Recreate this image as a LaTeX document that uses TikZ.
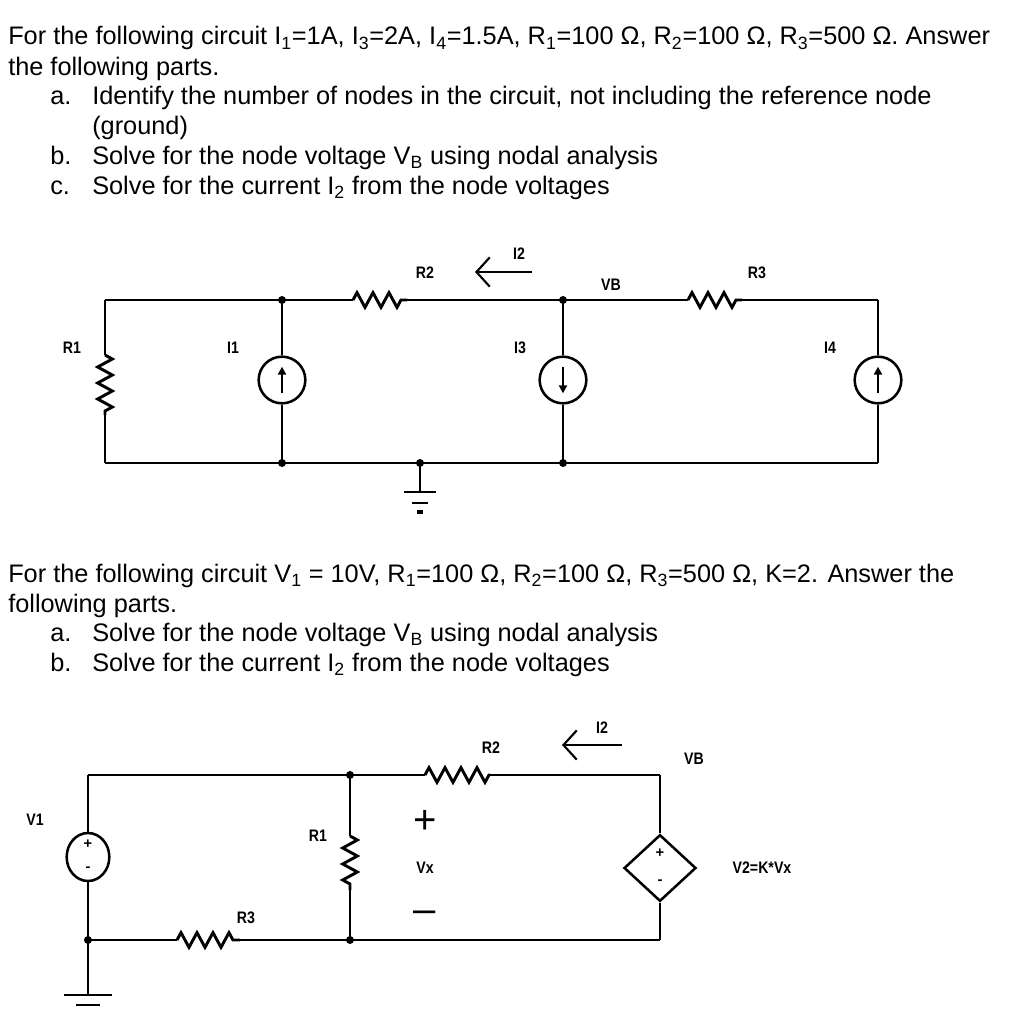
\documentclass[tikz,border=0pt]{standalone}
\usepackage{fontspec}
\setmainfont{Liberation Sans}
\usetikzlibrary{decorations.pathmorphing,shapes.geometric,arrows.meta}
\begin{document}
\begin{tikzpicture}[x=0.75pt,y=-0.75pt,
  txt/.style={anchor=base west,inner sep=0,font=\fontsize{19}{22}\selectfont},
  lbl/.style={inner sep=0,font=\fontsize{12.5}{14}\selectfont\bfseries,xscale=0.85},
  w/.style={line width=2.2pt},
  res/.style={w,decorate,decoration={zigzag,segment length=12,amplitude=5.5}},
  dot/.style={circle,fill,inner sep=0,minimum size=6pt},
  src/.style={circle,draw,line width=1.9pt,minimum size=35pt,inner sep=0},
  vsrc/.style={ellipse,draw,line width=1.9pt,minimum width=32pt,minimum height=36pt,inner sep=0},
  dsrc/.style={diamond,draw,line width=1.9pt,minimum width=54pt,minimum height=50pt,inner sep=0},
  cur/.style={line width=2.2pt,-{Triangle[length=6pt,width=6pt]}},
  pm/.style={font=\fontsize{11}{12}\selectfont\bfseries,inner sep=0},
  big/.style={-{Straight Barb[length=10pt,width=22pt,line width=1.6pt]},line width=1.7pt}]
\useasboundingbox (0,0) rectangle (1015,1010);
% ---------- text block 1
\node[txt] (t1) at (8,45) {For the following circuit I\textsubscript{1}=1A, I\textsubscript{3}=2A, I\textsubscript{4}=1.5A, R\textsubscript{1}=100 Ω, R\textsubscript{2}=100 Ω, R\textsubscript{3}=500 Ω. Answer};
\node[txt] (t2) at (8,75) {the following parts.};
\node[txt] (t3a) at (50,104) {a.};
\node[txt] (t3) at (92,104) {Identify the number of nodes in the circuit, not including the reference node};
\node[txt] (t4) at (92,134) {(ground)};
\node[txt] (t5a) at (50,164) {b.};
\node[txt] (t5) at (92,164) {Solve for the node voltage V\textsubscript{B} using nodal analysis};
\node[txt] (t6a) at (50,194) {c.};
\node[txt] (t6) at (92,194) {Solve for the current I\textsubscript{2} from the node voltages};
% ---------- circuit 1
\coordinate (aTL) at (105,300); \coordinate (aBL) at (105,463);
\coordinate (aT1) at (282,300); \coordinate (aB1) at (282,463);
\coordinate (aT3) at (563,300); \coordinate (aB3) at (563,463);
\coordinate (aTR) at (878,300); \coordinate (aBR) at (878,463);
\coordinate (aG) at (420,463);
\coordinate (r1a) at (105,355); \coordinate (r1b) at (105,415);
\coordinate (r2a) at (353,300); \coordinate (r2b) at (407,300);
\coordinate (r3a) at (688,300); \coordinate (r3b) at (742,300);
\node[src] (s1) at (282,380) {};
\node[src] (s3) at (563,380) {};
\node[src] (s4) at (878,380) {};
\draw[w] (aTL) -- (r1a); \draw[res] (r1a) -- (r1b); \draw[w] (r1b) -- (aBL);
\draw[w] (aTL) -- (r2a); \draw[res] (r2a) -- (r2b); \draw[w] (r2b) -- (r3a);
\draw[res] (r3a) -- (r3b); \draw[w] (r3b) -- (aTR);
\draw[w] (aBL) -- (aBR);
\draw[w] (aT1) -- (s1.north); \draw[w] (s1.south) -- (aB1);
\draw[w] (aT3) -- (s3.north); \draw[w] (s3.south) -- (aB3);
\draw[w] (aTR) -- (s4.north); \draw[w] (s4.south) -- (aBR);
\draw[cur] ([yshift=-10pt]s1.center) -- ([yshift=10pt]s1.center);
\draw[cur] ([yshift=10pt]s3.center) -- ([yshift=-10pt]s3.center);
\draw[cur] ([yshift=-10pt]s4.center) -- ([yshift=10pt]s4.center);
\foreach \p in {aT1,aT3,aB1,aB3,aG} \node[dot] at (\p) {};
\coordinate (g1) at (420,492);
\draw[w] (aG) -- (g1);
\draw[w] ([xshift=-12]g1) -- ([xshift=12]g1);
\draw[w] (412,503) -- (428,503);
\draw[line width=3pt] (417,512) -- (423,512);
\coordinate (ia) at (532,272); \coordinate (ib) at (475,272);
\draw[big] (ia) -- (ib);
\node[lbl] (L1) at (72,348) {R1};
\node[lbl] (L2) at (233,348) {I1};
\node[lbl] (L3) at (520,348) {I3};
\node[lbl] (L4) at (830,348) {I4};
\node[lbl] (L5) at (425,273) {R2};
\node[lbl] (L6) at (519,254) {I2};
\node[lbl] (L7) at (611,285) {VB};
\node[lbl] (L8) at (757,273) {R3};
% ---------- text block 2
\node[txt] (u1) at (8,582) {For the following circuit V\textsubscript{1} = 10V, R\textsubscript{1}=100 Ω, R\textsubscript{2}=100 Ω, R\textsubscript{3}=500 Ω, K=2. Answer the};
\node[txt] (u2) at (8,612) {following parts.};
\node[txt] (u3a) at (50,641) {a.};
\node[txt] (u3) at (92,641) {Solve for the node voltage V\textsubscript{B} using nodal analysis};
\node[txt] (u4a) at (50,671) {b.};
\node[txt] (u4) at (92,671) {Solve for the current I\textsubscript{2} from the node voltages};
% ---------- circuit 2
\coordinate (bTL) at (88,775); \coordinate (bBL) at (88,940);
\coordinate (bTM) at (350,775); \coordinate (bBM) at (350,940);
\coordinate (bTR) at (660,775); \coordinate (bBR) at (660,940);
\coordinate (q1a) at (350,836); \coordinate (q1b) at (350,890);
\coordinate (q2a) at (425,775); \coordinate (q2b) at (490,775);
\coordinate (q3a) at (177,940); \coordinate (q3b) at (240,940);
\node[vsrc] (v1) at (88,857) {};
\node[pm] (v1p) at (88,844) {+};
\node[pm] (v1m) at (88,869) {-};
\node[dsrc] (v2) at (660,868) {};
\node[pm] (v2p) at (660,853) {+};
\node[pm] (v2m) at (660,882) {-};
\draw[w] (bTL) -- (v1.north); \draw[w] (v1.south) -- (bBL);
\draw[w] (bTL) -- (q2a); \draw[res] (q2a) -- (q2b); \draw[w] (q2b) -- (bTR);
\draw[w] (bTR) -- (v2.north); \draw[w] (v2.south) -- (bBR);
\draw[w] (bBL) -- (q3a); \draw[res] (q3a) -- (q3b); \draw[w] (q3b) -- (bBR);
\draw[w] (bTM) -- (q1a); \draw[res] (q1a) -- (q1b); \draw[w] (q1b) -- (bBM);
\foreach \p in {bTM,bBL,bBM} \node[dot] at (\p) {};
\coordinate (g2) at (88,995);
\draw[w] (bBL) -- (g2);
\draw[w] ([xshift=-18]g2) -- ([xshift=18]g2);
\draw[w] (76,1005) -- (100,1005);
\coordinate (ja) at (622,745); \coordinate (jb) at (562,745);
\draw[big] (ja) -- (jb);
\node[inner sep=0,font=\fontsize{30}{30}\selectfont] (vxp) at (425,822) {+};
\node[lbl] (vx) at (425,868) {Vx};
\node[inner sep=0,font=\fontsize{30}{30}\selectfont] (vxm) at (425,917) {\textendash};
\node[lbl] (M1) at (35,820) {V1};
\node[lbl] (M2) at (318,836) {R1};
\node[lbl] (M3) at (491,748) {R2};
\node[lbl] (M4) at (602,728) {I2};
\node[lbl] (M5) at (694,759) {VB};
\node[lbl] (M6) at (246,918) {R3};
\node[lbl] (M7) at (762,868) {V2=K*Vx};
\end{tikzpicture}
\end{document}
